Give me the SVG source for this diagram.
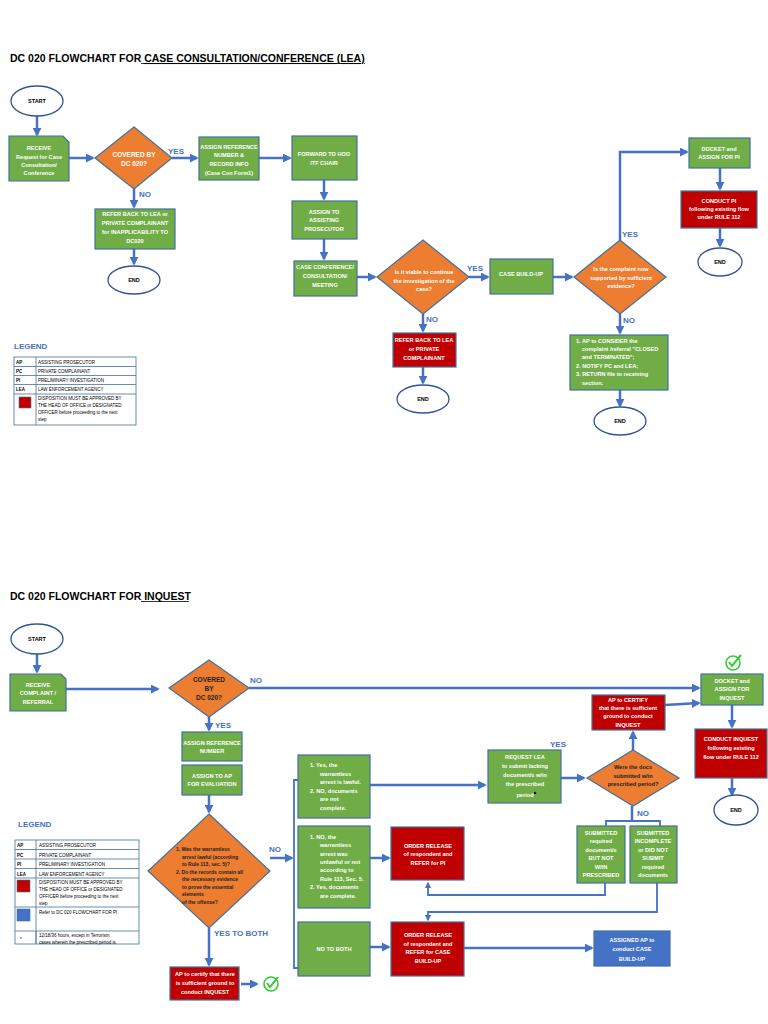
<svg xmlns="http://www.w3.org/2000/svg" width="768" height="1024" viewBox="0 0 768 1024">
<style>
.g{fill:#70AD47;stroke:#41719C;stroke-width:1.2}
.o{fill:#ED7D31;stroke:#41719C;stroke-width:1.2}
.r{fill:#C00000;stroke:#41719C;stroke-width:1.2}
.b{fill:#4472C4;stroke:#41719C;stroke-width:1.2}
.e{fill:#fff;stroke:#2F5597;stroke-width:1.3}
text{font-family:"Liberation Sans",Arial,sans-serif;font-weight:bold}
.t{fill:#fff;font-size:5.6px;text-anchor:middle}
.tl{fill:#fff;font-size:5.6px}
.d{fill:#fff;font-size:6.5px;text-anchor:middle}
.k{fill:#000;font-size:5.5px;text-anchor:middle}
.lb{fill:#4472C4;font-size:8px}
.h{fill:#000;font-size:10.5px}
.lg{fill:#000;font-size:4.5px;font-weight:normal}
.c line,.c path,.c polyline{stroke:#4472C4;stroke-width:2.5;fill:none;marker-end:url(#a)}
.c .n{marker-end:none}
.c .th{stroke-width:1.8}
</style>
<defs><marker id="a" viewBox="0 0 10 10" refX="8" refY="5" markerWidth="3.6" markerHeight="3.6" orient="auto"><path d="M0,0L10,5L0,10z" fill="#4472C4"/></marker></defs>
<rect width="768" height="1024" fill="#fff"/>
<text class="h" x="10" y="62">DC 020 FLOWCHART FOR <tspan text-decoration="underline">CASE CONSULTATION/CONFERENCE (LEA)</tspan></text>
<line x1="141" y1="63.5" x2="357" y2="63.5" stroke="#000" stroke-width="0.8"/>
<text class="h" x="10" y="600">DC 020 FLOWCHART FOR <tspan>INQUEST</tspan></text>
<line x1="141" y1="601.5" x2="189" y2="601.5" stroke="#000" stroke-width="0.8"/>

<g class="c">
<line x1="37" y1="116" x2="37" y2="135"/>
<line x1="69" y1="158" x2="93" y2="158"/>
<line x1="172" y1="158" x2="197" y2="158"/>
<line x1="259" y1="158" x2="290" y2="158"/>
<line x1="134" y1="187" x2="134" y2="207"/>
<line x1="134" y1="248" x2="134" y2="264"/>
<line x1="324" y1="180" x2="324" y2="199"/>
<line x1="324" y1="239" x2="324" y2="259"/>
<line x1="357" y1="277" x2="375" y2="277"/>
<line x1="469" y1="277" x2="488" y2="277"/>
<line x1="553" y1="277" x2="572" y2="277"/>
<line x1="423" y1="314" x2="423" y2="331"/>
<line x1="423" y1="367" x2="423" y2="383"/>
<polyline points="620,240 620,152 687,152"/>
<line x1="720" y1="168" x2="720" y2="189"/>
<line x1="720" y1="228" x2="720" y2="246"/>
<line x1="620" y1="314" x2="620" y2="333"/>
<line x1="620" y1="390" x2="620" y2="406"/>

<line x1="37" y1="654" x2="37" y2="672"/>
<line x1="66" y1="689" x2="158" y2="689"/>
<line x1="249" y1="688" x2="699" y2="688"/>
<line x1="209" y1="717" x2="209" y2="730"/>
<line x1="209" y1="795" x2="209" y2="812"/>
<line x1="270" y1="858" x2="292" y2="858"/>
<polyline class="n th" points="298,780 294,780 294,968 298,968"/>
<line x1="370" y1="785" x2="485" y2="785"/>
<line x1="370" y1="858" x2="389" y2="858"/>
<line x1="370" y1="947" x2="389" y2="947"/>
<line x1="464" y1="948" x2="592" y2="948"/>
<line x1="209" y1="928" x2="209" y2="965"/>
<line x1="241" y1="984" x2="257" y2="984" stroke-width="3.5"/>
<line x1="561" y1="778" x2="584" y2="778"/>
<line x1="633" y1="750" x2="633" y2="732"/>
<line x1="665" y1="705" x2="699" y2="703"/>
<line x1="732" y1="705" x2="732" y2="727"/>
<line x1="732" y1="778" x2="732" y2="795"/>
<line x1="632" y1="806" x2="632" y2="820" class="n"/>
<polyline class="n th" points="606,826 606,821 660,821 660,826"/>
<polyline class="th" points="605,883 605,895 428,895 428,883"/>
<polyline class="th" points="657,883 657,912 428,912 428,920"/>
</g>

<!-- top nodes -->
<g id="start1"><ellipse class="e" cx="37" cy="101" rx="26" ry="15"/><text class="k" x="37" y="103">START</text></g>
<g id="receive1"><path class="g" d="M9,136H63L69,142V181H9Z"/><text class="t"><tspan x="39" y="150">RECEIVE</tspan><tspan x="39" y="159">Request for Case</tspan><tspan x="39" y="167">Consultation/</tspan><tspan x="39" y="175">Conference</tspan></text></g>
<g id="covered1"><path class="o" d="M134,127L172,158L134,189L95,158Z"/><text class="d"><tspan x="134" y="157">COVERED BY</tspan><tspan x="134" y="166">DC 020?</tspan></text><text class="lb" x="168" y="154">YES</text><text class="lb" x="139" y="197">NO</text></g>
<g id="assignref1"><rect class="g" x="199" y="137" width="60" height="43"/><text class="t"><tspan x="229" y="149">ASSIGN REFERENCE</tspan><tspan x="229" y="157">NUMBER &amp;</tspan><tspan x="229" y="166">RECORD  INFO</tspan><tspan x="229" y="175">(Case Con  Form1)</tspan></text></g>
<g id="forward"><rect class="g" x="292" y="136" width="65" height="44"/><text class="t"><tspan x="324" y="156">FORWARD TO HOO</tspan><tspan x="324" y="165">/TF CHAIR</tspan></text></g>
<g id="referback1"><rect class="g" x="95" y="209" width="80" height="40"/><text class="t"><tspan x="135" y="216">REFER BACK TO LEA or</tspan><tspan x="135" y="225">PRIVATE COMPLAINANT</tspan><tspan x="135" y="234">for INAPPLICABILITY TO</tspan><tspan x="135" y="243">DC020</tspan></text></g>
<g id="end1"><ellipse class="e" cx="134" cy="280" rx="26" ry="14"/><text class="k" x="134" y="282">END</text></g>
<g id="assignap1"><rect class="g" x="292" y="201" width="65" height="38"/><text class="t"><tspan x="324" y="214">ASSIGN TO</tspan><tspan x="324" y="222">ASSISTING</tspan><tspan x="324" y="231">PROSECUTOR</tspan></text></g>
<g id="casecon"><rect class="g" x="294" y="261" width="63" height="35"/><text class="t"><tspan x="325" y="269">CASE CONFERENCE/</tspan><tspan x="325" y="278">CONSULTATION/</tspan><tspan x="325" y="287">MEETING</tspan></text></g>
<g id="viable"><path class="o" d="M423,240L469,277L423,314L377,277Z"/><text class="t"><tspan x="424" y="274">Is it viable to continue</tspan><tspan x="424" y="283">the investigation of the</tspan><tspan x="424" y="291">case?</tspan></text><text class="lb" x="467" y="271">YES</text><text class="lb" x="426" y="322">NO</text></g>
<g id="buildup"><rect class="g" x="490" y="259" width="63" height="35"/><text class="t" x="521" y="276">CASE BUILD-UP</text></g>
<g id="referred"><rect class="r" x="393" y="333" width="63" height="34"/><text class="t"><tspan x="424" y="342">REFER BACK TO LEA</tspan><tspan x="424" y="351">or PRIVATE</tspan><tspan x="424" y="360">COMPLAINANT</tspan></text></g>
<g id="end2"><ellipse class="e" cx="423" cy="399" rx="26" ry="14"/><text class="k" x="423" y="401">END</text></g>
<g id="supported"><path class="o" d="M620,240L666,277L620,314L574,277Z"/><text class="t"><tspan x="621" y="271">Is the complaint now</tspan><tspan x="621" y="280">supported by sufficient</tspan><tspan x="621" y="288">evidence?</tspan></text><text class="lb" x="622" y="237">YES</text><text class="lb" x="623" y="323">NO</text></g>
<g id="docket1"><rect class="g" x="689" y="138" width="61" height="30"/><text class="t"><tspan x="719" y="151">DOCKET and</tspan><tspan x="719" y="159">ASSIGN FOR PI</tspan></text></g>
<g id="conductpi"><rect class="r" x="681" y="191" width="76" height="37"/><text class="t"><tspan x="719" y="203">CONDUCT PI</tspan><tspan x="719" y="211">following existing flow</tspan><tspan x="719" y="219">under RULE 112</tspan></text></g>
<g id="end3"><ellipse class="e" cx="720" cy="262" rx="22" ry="14"/><text class="k" x="720" y="264">END</text></g>
<g id="closed"><rect class="g" x="570" y="335" width="98" height="55"/><text class="tl"><tspan x="576" y="343">1. AP to CONSIDER the</tspan><tspan x="582" y="351">complaint /referral "CLOSED</tspan><tspan x="582" y="359">and TERMINATED";</tspan><tspan x="576" y="368">2. NOTIFY PC and LEA;</tspan><tspan x="576" y="376">3. RETURN file to receiving</tspan><tspan x="582" y="385">section.</tspan></text></g>
<g id="end4"><ellipse class="e" cx="620" cy="421" rx="26" ry="14"/><text class="k" x="620" y="423">END</text></g>

<!-- legend 1 -->
<g id="legend1">
<text class="lb" x="14" y="349" font-size="6">LEGEND</text>
<g fill="#fff" stroke="#41719C" stroke-width="0.8">
<rect x="14" y="357" width="122" height="68"/>
<line x1="36" y1="357" x2="36" y2="425"/>
<line x1="14" y1="366.5" x2="136" y2="366.5"/><line x1="14" y1="375.5" x2="136" y2="375.5"/><line x1="14" y1="384.5" x2="136" y2="384.5"/><line x1="14" y1="394" x2="136" y2="394"/>
</g>
<rect x="19" y="397" width="12" height="11" fill="#C00000" stroke="#41719C" stroke-width="0.6"/>
<text class="lg"><tspan x="16" y="364" font-weight="bold">AP</tspan><tspan x="16" y="373" font-weight="bold">PC</tspan><tspan x="16" y="382" font-weight="bold">PI</tspan><tspan x="16" y="391" font-weight="bold">LEA</tspan>
<tspan x="38" y="364">ASSISTING  PROSECUTOR</tspan><tspan x="38" y="373">PRIVATE COMPLAINANT</tspan><tspan x="38" y="382">PRELIMINARY INVESTIGATION</tspan><tspan x="38" y="391">LAW ENFORCEMENT AGENCY</tspan>
<tspan x="38" y="400">DISPOSITION MUST BE APPROVED BY</tspan><tspan x="38" y="407">THE HEAD OF OFFICE or DESIGNATED</tspan><tspan x="38" y="414">OFFICER before proceeding to the next</tspan><tspan x="38" y="421">step</tspan></text>
</g>

<!-- bottom nodes -->
<g id="start2"><ellipse class="e" cx="37" cy="639" rx="26" ry="15"/><text class="k" x="37" y="641">START</text></g>
<g id="receive2"><path class="g" d="M10,674H61L66,679V711H10Z"/><text class="t"><tspan x="38" y="687">RECEIVE</tspan><tspan x="38" y="695">COMPLAINT /</tspan><tspan x="38" y="704">REFERRAL</tspan></text></g>
<g id="covered2"><path class="o" d="M209,660L249,688L209,717L169,688Z"/><text class="d" fill="#000" style="fill:#222"><tspan x="209" y="682">COVERED</tspan><tspan x="209" y="691">BY</tspan><tspan x="209" y="700">DC 020?</tspan></text><text class="lb" x="250" y="683">NO</text><text class="lb" x="215" y="728">YES</text></g>
<g id="assignref2"><rect class="g" x="182" y="732" width="60" height="29"/><text class="t"><tspan x="212" y="745">ASSIGN REFERENCE</tspan><tspan x="212" y="753">NUMBER</tspan></text></g>
<g id="assignap2"><rect class="g" x="182" y="765" width="60" height="30"/><text class="t"><tspan x="212" y="778">ASSIGN TO AP</tspan><tspan x="212" y="786">FOR EVALUATION</tspan></text></g>
<g id="warrantless"><path class="o" d="M209,814L270,871L209,928L148,871Z"/><text style="fill:#222;font-size:5px"><tspan x="176" y="851">1.  Was the warrantless</tspan><tspan x="182" y="859">arrest lawful (according</tspan><tspan x="182" y="866">to Rule 113, sec. 5)?</tspan><tspan x="176" y="874">2.  Do the records contain all</tspan><tspan x="182" y="881">the necessary evidence</tspan><tspan x="182" y="889">to prove the essential</tspan><tspan x="182" y="896">elements</tspan><tspan x="182" y="904">of the offense?</tspan></text><text class="lb" x="269" y="852">NO</text><text class="lb" x="214" y="936">YES TO BOTH</text></g>
<g id="yesno"><rect class="g" x="298" y="755" width="72" height="63"/><text class="tl"><tspan x="310" y="767">1.  Yes, the</tspan><tspan x="320" y="776">warrantless</tspan><tspan x="320" y="784">arrest is lawful.</tspan><tspan x="310" y="793">2.  NO, documents</tspan><tspan x="320" y="801">are not</tspan><tspan x="320" y="810">complete.</tspan></text></g>
<g id="noyes"><rect class="g" x="298" y="826" width="72" height="82"/><text class="tl"><tspan x="310" y="839">1.  NO, the</tspan><tspan x="320" y="847">warrantless</tspan><tspan x="320" y="856">arrest was</tspan><tspan x="320" y="864">unlawful or not</tspan><tspan x="320" y="872">according to</tspan><tspan x="320" y="881">Rule 113, Sec. 5.</tspan><tspan x="310" y="889">2.  Yes, documents</tspan><tspan x="320" y="898">are complete.</tspan></text></g>
<g id="notoboth"><rect class="g" x="298" y="922" width="72" height="54"/><text class="t" x="334" y="951">NO TO BOTH</text></g>
<g id="releasepi"><rect class="r" x="391" y="827" width="73" height="53"/><text class="t"><tspan x="428" y="848">ORDER RELEASE</tspan><tspan x="428" y="856">of respondent and</tspan><tspan x="428" y="865">REFER for PI</tspan></text></g>
<g id="releasecbu"><rect class="r" x="391" y="922" width="73" height="54"/><text class="t"><tspan x="428" y="937">ORDER RELEASE</tspan><tspan x="428" y="946">of respondent and</tspan><tspan x="428" y="954">REFER for CASE</tspan><tspan x="428" y="963">BUILD-UP</tspan></text></g>
<g id="assignedap"><rect class="b" x="594" y="931" width="76" height="35"/><text class="t" font-size="6.2"><tspan x="632" y="942">ASSIGNED AP to</tspan><tspan x="632" y="951">conduct CASE</tspan><tspan x="632" y="961">BUILD-UP</tspan></text></g>
<g id="certify1"><rect class="r" x="170" y="967" width="69" height="33"/><text class="t" font-size="6"><tspan x="205" y="976">AP to certify that there</tspan><tspan x="205" y="985">is sufficient ground to</tspan><tspan x="205" y="994">conduct INQUEST</tspan></text></g>
<g id="check1"><circle cx="271" cy="984" r="7" fill="none" stroke="#33CC33" stroke-width="1.6"/><path d="M267,983L270,987L278,977" fill="none" stroke="#33CC33" stroke-width="2"/></g>
<g id="requestlea"><rect class="g" x="488" y="750" width="73" height="53"/><text class="t"><tspan x="525" y="759">REQUEST LEA</tspan><tspan x="525" y="768">to submit lacking</tspan><tspan x="525" y="777">document/s w/in</tspan><tspan x="525" y="786">the prescribed</tspan><tspan x="525" y="797">period</tspan></text><circle cx="535" cy="793" r="1.3" fill="#000"/><text class="lb" x="550" y="747">YES</text></g>
<g id="weredocs"><path class="o" d="M633,750L679,778L633,806L587,778Z"/><text style="fill:#222;font-size:5.6px;text-anchor:middle"><tspan x="633" y="769">Were the docs</tspan><tspan x="633" y="778">submitted w/in</tspan><tspan x="633" y="786">prescribed period?</tspan></text><text class="lb" x="637" y="816">NO</text></g>
<g id="certify2"><rect class="r" x="592" y="695" width="73" height="35"/><text class="t"><tspan x="628" y="702">AP to CERTIFY</tspan><tspan x="628" y="710">that there is sufficient</tspan><tspan x="628" y="718">ground to conduct</tspan><tspan x="628" y="727">INQUEST</tspan></text></g>
<g id="docket2"><rect class="g" x="701" y="674" width="62" height="31"/><text class="t"><tspan x="732" y="683">DOCKET and</tspan><tspan x="732" y="691">ASSIGN FOR</tspan><tspan x="732" y="700">INQUEST</tspan></text></g>
<g id="check2"><circle cx="733" cy="663" r="7" fill="none" stroke="#33CC33" stroke-width="1.6"/><path d="M729,662L732,666L741,655" fill="none" stroke="#33CC33" stroke-width="2"/></g>
<g id="conductinq"><rect class="r" x="695" y="729" width="72" height="49"/><text class="t"><tspan x="731" y="741">CONDUCT INQUEST</tspan><tspan x="731" y="750">following existing</tspan><tspan x="731" y="759">flow under RULE 112</tspan></text></g>
<g id="end5"><ellipse class="e" cx="736" cy="810" rx="22" ry="15"/><text class="k" x="736" y="812">END</text></g>
<g id="subA"><rect class="g" x="577" y="826" width="48" height="57"/><text class="t"><tspan x="601" y="835">SUBMITTED</tspan><tspan x="601" y="843">required</tspan><tspan x="601" y="852">document/s</tspan><tspan x="601" y="860">BUT NOT</tspan><tspan x="601" y="869">W/IN</tspan><tspan x="601" y="877">PRESCRIBED</tspan></text></g>
<g id="subB"><rect class="g" x="630" y="826" width="47" height="57"/><text class="t"><tspan x="653" y="835">SUBMITTED</tspan><tspan x="653" y="843">INCOMPLETE</tspan><tspan x="653" y="852">or DID NOT</tspan><tspan x="653" y="860">SUBMIT</tspan><tspan x="653" y="869">required</tspan><tspan x="653" y="877">documents</tspan></text></g>

<!-- legend 2 -->
<g id="legend2">
<text class="lb" x="18" y="827" font-size="6">LEGEND</text>
<g fill="#fff" stroke="#41719C" stroke-width="0.8">
<rect x="15" y="840" width="124" height="104"/>
<line x1="36" y1="840" x2="36" y2="944"/>
<line x1="15" y1="849.5" x2="139" y2="849.5"/><line x1="15" y1="859" x2="139" y2="859"/><line x1="15" y1="868.5" x2="139" y2="868.5"/><line x1="15" y1="878" x2="139" y2="878"/><line x1="15" y1="907" x2="139" y2="907"/><line x1="15" y1="931" x2="139" y2="931"/>
</g>
<line x1="36" y1="931" x2="36" y2="944" stroke="#41719C" stroke-width="0.8"/>
<rect x="17" y="880" width="13" height="12" fill="#C00000" stroke="#41719C" stroke-width="0.6"/>
<rect x="17" y="909" width="13" height="12" fill="#4472C4" stroke="#41719C" stroke-width="0.6"/>
<text class="lg"><tspan x="17" y="847" font-weight="bold">AP</tspan><tspan x="17" y="857" font-weight="bold">PC</tspan><tspan x="17" y="866" font-weight="bold">PI</tspan><tspan x="17" y="876" font-weight="bold">LEA</tspan>
<tspan x="39" y="847">ASSISTING  PROSECUTOR</tspan><tspan x="39" y="857">PRIVATE COMPLAINANT</tspan><tspan x="39" y="866">PRELIMINARY INVESTIGATION</tspan><tspan x="39" y="876">LAW ENFORCEMENT AGENCY</tspan>
<tspan x="39" y="884">DISPOSITION MUST BE APPROVED BY</tspan><tspan x="39" y="891">THE HEAD OF OFFICE or DESIGNATED</tspan><tspan x="39" y="898">OFFICER before proceeding to the next</tspan><tspan x="39" y="905">step</tspan>
<tspan x="39" y="914">Refer to DC 020 FLOWCHART FOR PI</tspan>
<tspan x="39" y="937">12/18/36 hours, except in Terrorism</tspan><tspan x="39" y="944" dy="-0.5">cases wherein the prescribed period is</tspan></text>
<text class="lg" x="20" y="941" font-size="9" font-weight="bold">*</text>
</g>
</svg>
